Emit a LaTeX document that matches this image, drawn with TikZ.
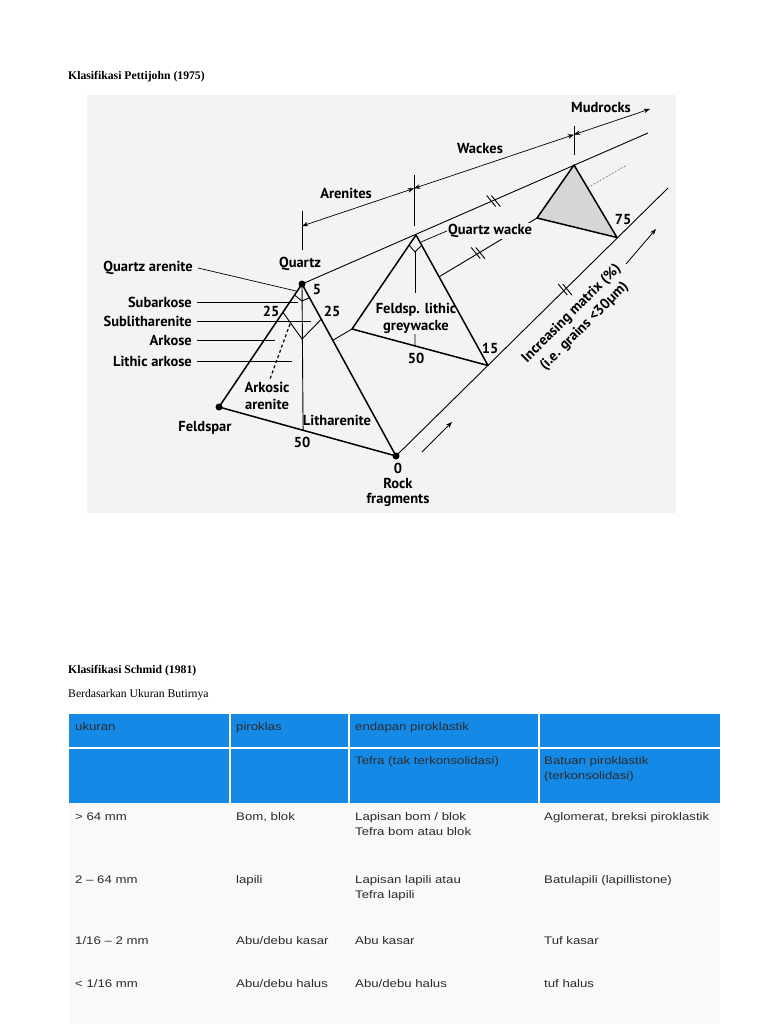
\documentclass[tikz,border=0pt]{standalone}
\usepackage{fontspec}
\setmainfont{Liberation Serif}
\newfontfamily\dgfont{PT Sans}
\newfontfamily\tabfont[FakeStretch=1.2]{Liberation Sans}
\usetikzlibrary{arrows.meta,calc}
\definecolor{scanbg}{HTML}{F3F3F3}
\definecolor{mudgray}{HTML}{D6D6D6}
\definecolor{tabblue}{HTML}{1589E6}
\definecolor{tabbody}{HTML}{F9F9F9}
\definecolor{tabink}{HTML}{2B2B2B}
\tikzset{
  tri/.style={line width=1.5pt, line join=round},
  ln/.style={line width=0.9pt},
  ldr/.style={line width=0.7pt},
  dim/.style={{Stealth[length=2.2mm,width=1.6mm]}-{Stealth[length=2.2mm,width=1.6mm]}, line width=0.7pt},
  arr/.style={-{Stealth[length=2.2mm,width=1.6mm]}, line width=0.8pt},
  lb/.style={font=\dgfont\bfseries\fontsize{14.5}{17}\selectfont, inner sep=1pt, align=center},
  dot/.style={circle, fill=black, inner sep=0pt, minimum size=7pt},
  cell/.style={font=\tabfont\fontsize{11}{15}\selectfont, text=tabink, anchor=base west, inner sep=0pt},
  ttl/.style={anchor=west, inner sep=0pt, font=\bfseries\fontsize{11.7}{14}\selectfont},
  sub/.style={anchor=west, inner sep=0pt, font=\fontsize{11.7}{14}\selectfont},
}
\newcommand{\brk}[1]{\foreach \s in {-2.3,2.3} \draw[ln] ($(#1)+(\s-4.5,-5.5)$) -- ($(#1)+(\s+4.5,5.5)$);}

\begin{document}
\begin{tikzpicture}[x=1pt,y=-1pt]
  \useasboundingbox (0,0) rectangle (768,1024);
  \fill[white] (0,0) rectangle (768,1024);
  \node[ttl] (tp) at (68,77) {Klasifikasi Pettijohn (1975)};
  \fill[scanbg] (87,95) rectangle (676,513);
  % corners of the three triangles
  \coordinate (qz) at (302,284);
  \coordinate (fs) at (219,407);
  \coordinate (rf) at (396,456);
  \coordinate (q2) at (416,235);
  \coordinate (f2) at (352,329);
  \coordinate (r2) at (488,365.5);
  \coordinate (q3) at (574,165);
  \coordinate (f3) at (537,218);
  \coordinate (r3) at (617,237.5);
  \coordinate (qe) at (648,133);
  \coordinate (ax) at (668,188);
  \coordinate (g1) at (intersection of qz--rf and fs--f2);
  \coordinate (g2) at (intersection of q2--r2 and f2--f3);
  \coordinate (g3) at (intersection of q3--r3 and f2--f3);
  \coordinate (g4) at (627,165);
  \fill[mudgray] (q3) -- (f3) -- (r3) -- cycle;
  \draw[ln] (qz) -- (qe);
  \draw[ln] (rf) -- (ax);
  \draw[ln] (g1) -- (f2);
  \draw[ln] (g2) -- (f3);
  \draw[ldr, gray, dash pattern=on 2pt off 1.5pt] (g3) -- (g4);
  \draw[tri] (qz) -- (fs) -- (rf) -- cycle;
  \draw[tri] (q2) -- (f2) -- (r2) -- cycle;
  \draw[tri] (q3) -- (f3) -- (r3) -- cycle;
  \foreach \p in {{493.5,201}, {478,253}, {565,289.5}} \brk{\p};
  % fields inside the sandstone triangle
  \coordinate (m50) at ($(fs)!0.475!(rf)$);
  \coordinate (al) at ($(qz)!0.09!(fs)$);
  \coordinate (ar) at ($(qz)!0.08!(rf)$);
  \coordinate (ab) at (302,301);
  \coordinate (bl) at ($(qz)!0.23!(fs)$);
  \coordinate (br) at ($(qz)!0.205!(rf)$);
  \coordinate (bb) at (302,339);
  \draw[ln] (qz) -- (m50);
  \draw[ln] (al) -- (ab) -- (ar);
  \draw[ln] (bl) -- (bb) -- (br);
  \coordinate (d1) at (290,324);
  \coordinate (d2) at (270,379);
  \draw[line width=1.2pt, dash pattern=on 3pt off 2.5pt] (d1) -- (d2);
  % wacke triangle
  \coordinate (wl) at (409,245);
  \coordinate (wr) at (421,246);
  \coordinate (wb) at (415,252);
  \coordinate (wc) at (415,293);
  \coordinate (wd) at (415,334);
  \coordinate (m2) at ($(f2)!0.463!(r2)$);
  \draw[ln] (wl) -- (wb) -- (wr);
  \draw[ln] (wb) -- (wc);
  \draw[ln] (wd) -- (m2);
  % dimension line
  \coordinate (e1) at (302,226);
  \coordinate (e2) at (414,188.4);
  \coordinate (e3) at (574,134.6);
  \coordinate (e4) at (650,109);
  \draw[ln] (302,211) coordinate (k1) -- (302,250) coordinate (k2);
  \draw[ln] (414,175) coordinate (k3) -- (414,226) coordinate (k4);
  \draw[ln] (574,126) coordinate (k5) -- (574,155) coordinate (k6);
  \draw[dim] (e1) -- (e2);
  \draw[dim] (e2) -- (e3);
  \draw[dim] (e3) -- (e4);
  \coordinate (ma1) at (422,452);
  \coordinate (ma2) at (452,422);
  \coordinate (mb1) at (626,264);
  \coordinate (mb2) at (656,229);
  \draw[arr] (ma1) -- (ma2);
  \draw[arr] (mb1) -- (mb2);
  % labels
  \node[lb] (lqz) at (300,264) {Quartz};
  \node[lb, anchor=east] (lqa) at (194,268) {Quartz arenite};
  \node[lb, anchor=east] (lsa) at (193,302) {Subarkose};
  \node[lb, anchor=east] (lsl) at (193,321) {Sublitharenite};
  \node[lb, anchor=east] (lak) at (193,340) {Arkose};
  \node[lb, anchor=east] (lla) at (193,361) {Lithic arkose};
  \node[lb] (lfs) at (205,428) {Feldspar};
  \node[lb] (lar) at (267,396) {Arkosic\\arenite};
  \node[lb] (llt) at (337,420) {Litharenite};
  \node[lb] (n5) at (317,290) {5};
  \node[lb] (n25a) at (271,311) {25};
  \node[lb] (n25b) at (332,311) {25};
  \node[lb] (n50a) at (302,442) {50};
  \node[lb, font=\dgfont\bfseries\fontsize{14.5}{15}\selectfont] (lrf) at (398,485) {0\\Rock\\fragments};
  \node[lb] (lfg) at (416,318) {Feldsp. lithic\\greywacke};
  \node[lb] (n50b) at (416,358) {50};
  \node[lb] (n15) at (490,348) {15};
  \node[lb, fill=scanbg] (lqw) at (490,231) {Quartz wacke};
  \node[lb] (n75) at (623,220) {75};
  \node[lb] (lare) at (346,193) {Arenites};
  \node[lb] (lwa) at (480,149) {Wackes};
  \node[lb] (lmu) at (601,108) {Mudrocks};
  \node[lb, rotate=45, font=\dgfont\bfseries\fontsize{14.5}{18}\selectfont] (lmx) at (578,320) {Increasing matrix (\%)\\(i.e. grains <30µm)};
  % leaders
  \coordinate (pqa) at (296,291);
  \coordinate (psa) at (298,302);
  \coordinate (psl) at (311,321);
  \coordinate (pak) at (275,340);
  \coordinate (pla) at (292,361);
  \coordinate (pqw) at (421,242);
  \draw[ldr] ([xshift=4]lqa.east) -- (pqa);
  \draw[ldr] ([xshift=4]lsa.east) -- (psa);
  \draw[ldr] ([xshift=4]lsl.east) -- (psl);
  \draw[ldr] ([xshift=4]lak.east) -- (pak);
  \draw[ldr] ([xshift=4]lla.east) -- (pla);
  \draw[ldr] (pqw) -- (lqw.west);
  \node[dot] (dq) at (qz) {};
  \node[dot] (df) at (fs) {};
  \node[dot] (dr) at (rf) {};
  % Schmid table
  \node[ttl] (ts) at (68,671) {Klasifikasi Schmid (1981)};
  \node[sub] (tb) at (68,695) {Berdasarkan Ukuran Butirnya};
  \fill[tabblue] (69,714) rectangle (720,803);
  \fill[tabbody] (69,803) rectangle (720,1024);
  \draw[white, line width=2pt] (69,747.5) -- (720,747.5);
  \foreach \x in {229.5,349,538.5} \draw[white, line width=2pt] (\x,714) -- (\x,803);
  \node[cell] (h1) at (75,730) {ukuran};
  \node[cell] (h2) at (236,730) {piroklas};
  \node[cell] (h3) at (355,730) {endapan piroklastik};
  \node[cell] (h4) at (355,764) {Tefra (tak terkonsolidasi)};
  \node[cell] (h5) at (544,764) {Batuan piroklastik};
  \node[cell] (h6) at (544,779) {(terkonsolidasi)};
  \node[cell] (a1) at (75,820) {> 64 mm};
  \node[cell] (a2) at (236,820) {Bom, blok};
  \node[cell] (a3) at (355,820) {Lapisan bom / blok};
  \node[cell] (a5) at (355,835) {Tefra bom atau blok};
  \node[cell] (a4) at (544,820) {Aglomerat, breksi piroklastik};
  \node[cell] (b1) at (75,883) {2 – 64 mm};
  \node[cell] (b2) at (236,883) {lapili};
  \node[cell] (b3) at (355,883) {Lapisan lapili atau};
  \node[cell] (b5) at (355,898) {Tefra lapili};
  \node[cell] (b4) at (544,883) {Batulapili (lapillistone)};
  \node[cell] (c1) at (75,944) {1/16 – 2 mm};
  \node[cell] (c2) at (236,944) {Abu/debu kasar};
  \node[cell] (c3) at (355,944) {Abu kasar};
  \node[cell] (c4) at (544,944) {Tuf kasar};
  \node[cell] (d1) at (75,987) {< 1/16 mm};
  \node[cell] (d2) at (236,987) {Abu/debu halus};
  \node[cell] (d3) at (355,987) {Abu/debu halus};
  \node[cell] (d4) at (544,987) {tuf halus};
\end{tikzpicture}
\end{document}
